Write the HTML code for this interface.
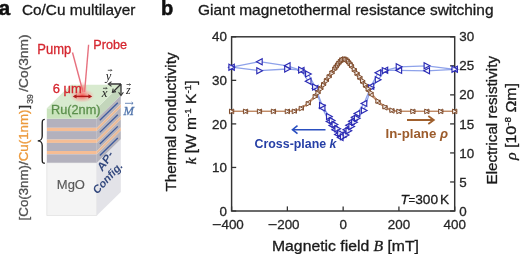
<!DOCTYPE html>
<html><head><meta charset="utf-8"><style>html,body{margin:0;padding:0;background:#fff;overflow:hidden}svg{display:block}</style></head>
<body>
<svg width="520" height="254" viewBox="0 0 520 254" font-family="Liberation Sans, Arial, sans-serif">
<rect width="520" height="254" fill="#fff"/>
<defs>
<radialGradient id="spot" cx="0.5" cy="0.5" r="0.5">
<stop offset="0" stop-color="#ff4040" stop-opacity="0.9"/>
<stop offset="0.4" stop-color="#ff6a6a" stop-opacity="0.6"/>
<stop offset="0.75" stop-color="#ff9090" stop-opacity="0.3"/>
<stop offset="1" stop-color="#ffa0a0" stop-opacity="0"/>
</radialGradient>
</defs>
<text x="-1.3" y="15.2" font-size="20.5" font-weight="bold" fill="#111" stroke="#111" stroke-width="0.5">a</text>
<text x="22" y="14.9" font-size="14.5" fill="#1a1a1a" textLength="113.3" lengthAdjust="spacingAndGlyphs" stroke="#1a1a1a" stroke-width="0.3">Co/Cu multilayer</text>
<text x="161" y="15.1" font-size="20" font-weight="bold" fill="#111" stroke="#111" stroke-width="0.5">b</text>
<text x="198" y="14.9" font-size="14.5" fill="#1a1a1a" textLength="295.5" lengthAdjust="spacingAndGlyphs" stroke="#1a1a1a" stroke-width="0.3">Giant magnetothermal resistance switching</text>
<rect x="231.6" y="36.8" width="223.1" height="174.2" fill="none" stroke="#333333" stroke-width="1.45"/>
<line x1="231.6" y1="211.00" x2="236.2" y2="211.00" stroke="#333333" stroke-width="1.3"/>
<text x="227" y="215.60" font-size="13.4" text-anchor="end" fill="#262626" stroke="#262626" stroke-width="0.3">0</text>
<line x1="231.6" y1="167.45" x2="236.2" y2="167.45" stroke="#333333" stroke-width="1.3"/>
<text x="227" y="172.05" font-size="13.4" text-anchor="end" fill="#262626" stroke="#262626" stroke-width="0.3">10</text>
<line x1="231.6" y1="123.90" x2="236.2" y2="123.90" stroke="#333333" stroke-width="1.3"/>
<text x="227" y="128.50" font-size="13.4" text-anchor="end" fill="#262626" stroke="#262626" stroke-width="0.3">20</text>
<line x1="231.6" y1="80.35" x2="236.2" y2="80.35" stroke="#333333" stroke-width="1.3"/>
<text x="227" y="84.95" font-size="13.4" text-anchor="end" fill="#262626" stroke="#262626" stroke-width="0.3">30</text>
<line x1="231.6" y1="36.80" x2="236.2" y2="36.80" stroke="#333333" stroke-width="1.3"/>
<text x="227" y="41.40" font-size="13.4" text-anchor="end" fill="#262626" stroke="#262626" stroke-width="0.3">40</text>
<line x1="454.7" y1="211.00" x2="450.09999999999997" y2="211.00" stroke="#333333" stroke-width="1.3"/>
<text x="459.3" y="215.60" font-size="13.4" fill="#262626" stroke="#262626" stroke-width="0.3">0</text>
<line x1="454.7" y1="181.97" x2="450.09999999999997" y2="181.97" stroke="#333333" stroke-width="1.3"/>
<text x="459.3" y="186.57" font-size="13.4" fill="#262626" stroke="#262626" stroke-width="0.3">5</text>
<line x1="454.7" y1="152.93" x2="450.09999999999997" y2="152.93" stroke="#333333" stroke-width="1.3"/>
<text x="459.3" y="157.53" font-size="13.4" fill="#262626" stroke="#262626" stroke-width="0.3">10</text>
<line x1="454.7" y1="123.90" x2="450.09999999999997" y2="123.90" stroke="#333333" stroke-width="1.3"/>
<text x="459.3" y="128.50" font-size="13.4" fill="#262626" stroke="#262626" stroke-width="0.3">15</text>
<line x1="454.7" y1="94.87" x2="450.09999999999997" y2="94.87" stroke="#333333" stroke-width="1.3"/>
<text x="459.3" y="99.47" font-size="13.4" fill="#262626" stroke="#262626" stroke-width="0.3">20</text>
<line x1="454.7" y1="65.83" x2="450.09999999999997" y2="65.83" stroke="#333333" stroke-width="1.3"/>
<text x="459.3" y="70.43" font-size="13.4" fill="#262626" stroke="#262626" stroke-width="0.3">25</text>
<line x1="454.7" y1="36.80" x2="450.09999999999997" y2="36.80" stroke="#333333" stroke-width="1.3"/>
<text x="459.3" y="41.40" font-size="13.4" fill="#262626" stroke="#262626" stroke-width="0.3">30</text>
<line x1="231.60" y1="211.0" x2="231.60" y2="206.4" stroke="#333333" stroke-width="1.3"/>
<text x="243.80" y="228.9" font-size="13.4" text-anchor="end" fill="#262626" stroke="#262626" stroke-width="0.3">400</text>
<text x="212.20" y="229.2" font-size="13.4" fill="#262626" textLength="9.4" lengthAdjust="spacingAndGlyphs" stroke="#262626" stroke-width="0.3">−</text>
<line x1="287.38" y1="211.0" x2="287.38" y2="206.4" stroke="#333333" stroke-width="1.3"/>
<text x="299.57" y="228.9" font-size="13.4" text-anchor="end" fill="#262626" stroke="#262626" stroke-width="0.3">200</text>
<text x="267.98" y="229.2" font-size="13.4" fill="#262626" textLength="9.4" lengthAdjust="spacingAndGlyphs" stroke="#262626" stroke-width="0.3">−</text>
<line x1="343.15" y1="211.0" x2="343.15" y2="206.4" stroke="#333333" stroke-width="1.3"/>
<text x="343.15" y="228.9" font-size="13.4" text-anchor="middle" fill="#262626" stroke="#262626" stroke-width="0.3">0</text>
<line x1="398.92" y1="211.0" x2="398.92" y2="206.4" stroke="#333333" stroke-width="1.3"/>
<text x="398.92" y="228.9" font-size="13.4" text-anchor="middle" fill="#262626" stroke="#262626" stroke-width="0.3">200</text>
<line x1="454.70" y1="211.0" x2="454.70" y2="206.4" stroke="#333333" stroke-width="1.3"/>
<text x="454.70" y="228.9" font-size="13.4" text-anchor="middle" fill="#262626" stroke="#262626" stroke-width="0.3">400</text>
<text x="272" y="251" font-size="14.3" fill="#1a1a1a" textLength="147" lengthAdjust="spacingAndGlyphs" stroke="#1a1a1a" stroke-width="0.3">Magnetic field <tspan font-family="Liberation Serif, serif" font-style="italic">B</tspan> [mT]</text>
<text transform="translate(175.5,191.5) rotate(-90)" font-size="14.4" fill="#1a1a1a" textLength="139" lengthAdjust="spacingAndGlyphs" stroke="#1a1a1a" stroke-width="0.3">Thermal conductivity</text>
<text transform="translate(195.5,164.5) rotate(-90)" font-size="14.4" fill="#1a1a1a" textLength="84" lengthAdjust="spacingAndGlyphs" stroke="#1a1a1a" stroke-width="0.3"><tspan font-family="Liberation Serif, serif" font-style="italic">k</tspan> [W m<tspan font-size="9" dy="-5">-1</tspan><tspan dy="5"> K</tspan><tspan font-size="9" dy="-5">-1</tspan><tspan dy="5">]</tspan></text>
<text transform="translate(496.5,184.5) rotate(-90)" font-size="14.4" fill="#1a1a1a" textLength="128.5" lengthAdjust="spacingAndGlyphs" stroke="#1a1a1a" stroke-width="0.3">Electrical resistivity</text>
<text transform="translate(516,160) rotate(-90)" font-size="14.4" fill="#1a1a1a" textLength="77" lengthAdjust="spacingAndGlyphs" stroke="#1a1a1a" stroke-width="0.3"><tspan font-family="Liberation Serif, serif" font-style="italic">ρ</tspan> [10<tspan font-size="9" dy="-5">-8</tspan><tspan dy="5"> Ωm]</tspan></text>
<polyline points="231.60,67.20 259.49,61.70 287.38,65.80 301.32,70.50 308.29,81.30 315.26,88.50 322.23,108.00 329.21,121.42 332.00,125.54 334.78,129.83 337.57,134.43 340.36,137.53 343.15,134.28 345.94,129.64 348.73,125.36 351.52,121.24 354.31,117.35 357.09,113.46 364.07,103.40 371.04,86.20 378.01,72.70 384.98,70.20 398.92,70.40 426.81,70.80 454.70,69.30" fill="none" stroke="#8ea2ea" stroke-width="1.3"/>
<polyline points="231.60,67.20 259.49,70.70 287.38,69.00 301.32,70.00 308.29,73.90 315.26,87.00 322.23,105.50 329.21,116.53 332.00,120.42 334.78,124.45 337.57,128.74 340.36,133.34 343.15,136.84 345.94,135.11 348.73,130.75 351.52,126.45 354.31,122.24 357.09,118.34 364.07,110.50 371.04,87.80 378.01,79.80 384.98,70.60 398.92,66.80 426.81,65.80 454.70,69.30" fill="none" stroke="#8ea2ea" stroke-width="1.3"/>
<polygon points="228.60,67.20 234.30,64.20 234.30,70.20" fill="#fff" fill-opacity="0.85" stroke="#2a2ab4" stroke-width="1.15"/>
<polygon points="256.49,61.70 262.19,58.70 262.19,64.70" fill="#fff" fill-opacity="0.85" stroke="#2a2ab4" stroke-width="1.15"/>
<polygon points="284.38,65.80 290.07,62.80 290.07,68.80" fill="#fff" fill-opacity="0.85" stroke="#2a2ab4" stroke-width="1.15"/>
<polygon points="298.32,70.50 304.02,67.50 304.02,73.50" fill="#fff" fill-opacity="0.85" stroke="#2a2ab4" stroke-width="1.15"/>
<polygon points="305.29,81.30 310.99,78.30 310.99,84.30" fill="#fff" fill-opacity="0.85" stroke="#2a2ab4" stroke-width="1.15"/>
<polygon points="312.26,88.50 317.96,85.50 317.96,91.50" fill="#fff" fill-opacity="0.85" stroke="#2a2ab4" stroke-width="1.15"/>
<polygon points="319.23,108.00 324.93,105.00 324.93,111.00" fill="#fff" fill-opacity="0.85" stroke="#2a2ab4" stroke-width="1.15"/>
<polygon points="326.21,121.42 331.91,118.42 331.91,124.42" fill="#fff" fill-opacity="0.85" stroke="#2a2ab4" stroke-width="1.15"/>
<polygon points="329.00,125.54 334.69,122.54 334.69,128.54" fill="#fff" fill-opacity="0.85" stroke="#2a2ab4" stroke-width="1.15"/>
<polygon points="331.78,129.83 337.48,126.83 337.48,132.83" fill="#fff" fill-opacity="0.85" stroke="#2a2ab4" stroke-width="1.15"/>
<polygon points="334.57,134.43 340.27,131.43 340.27,137.43" fill="#fff" fill-opacity="0.85" stroke="#2a2ab4" stroke-width="1.15"/>
<polygon points="337.36,137.53 343.06,134.53 343.06,140.53" fill="#fff" fill-opacity="0.85" stroke="#2a2ab4" stroke-width="1.15"/>
<polygon points="340.15,134.28 345.85,131.28 345.85,137.28" fill="#fff" fill-opacity="0.85" stroke="#2a2ab4" stroke-width="1.15"/>
<polygon points="342.94,129.64 348.64,126.64 348.64,132.64" fill="#fff" fill-opacity="0.85" stroke="#2a2ab4" stroke-width="1.15"/>
<polygon points="345.73,125.36 351.43,122.36 351.43,128.36" fill="#fff" fill-opacity="0.85" stroke="#2a2ab4" stroke-width="1.15"/>
<polygon points="348.52,121.24 354.22,118.24 354.22,124.24" fill="#fff" fill-opacity="0.85" stroke="#2a2ab4" stroke-width="1.15"/>
<polygon points="351.31,117.35 357.00,114.35 357.00,120.35" fill="#fff" fill-opacity="0.85" stroke="#2a2ab4" stroke-width="1.15"/>
<polygon points="354.09,113.46 359.79,110.46 359.79,116.46" fill="#fff" fill-opacity="0.85" stroke="#2a2ab4" stroke-width="1.15"/>
<polygon points="361.07,103.40 366.77,100.40 366.77,106.40" fill="#fff" fill-opacity="0.85" stroke="#2a2ab4" stroke-width="1.15"/>
<polygon points="368.04,86.20 373.74,83.20 373.74,89.20" fill="#fff" fill-opacity="0.85" stroke="#2a2ab4" stroke-width="1.15"/>
<polygon points="375.01,72.70 380.71,69.70 380.71,75.70" fill="#fff" fill-opacity="0.85" stroke="#2a2ab4" stroke-width="1.15"/>
<polygon points="381.98,70.20 387.68,67.20 387.68,73.20" fill="#fff" fill-opacity="0.85" stroke="#2a2ab4" stroke-width="1.15"/>
<polygon points="395.92,70.40 401.62,67.40 401.62,73.40" fill="#fff" fill-opacity="0.85" stroke="#2a2ab4" stroke-width="1.15"/>
<polygon points="423.81,70.80 429.51,67.80 429.51,73.80" fill="#fff" fill-opacity="0.85" stroke="#2a2ab4" stroke-width="1.15"/>
<polygon points="451.70,69.30 457.40,66.30 457.40,72.30" fill="#fff" fill-opacity="0.85" stroke="#2a2ab4" stroke-width="1.15"/>
<polygon points="234.60,67.20 228.90,64.20 228.90,70.20" fill="#fff" fill-opacity="0.85" stroke="#2a2ab4" stroke-width="1.15"/>
<polygon points="262.49,70.70 256.79,67.70 256.79,73.70" fill="#fff" fill-opacity="0.85" stroke="#2a2ab4" stroke-width="1.15"/>
<polygon points="290.38,69.00 284.68,66.00 284.68,72.00" fill="#fff" fill-opacity="0.85" stroke="#2a2ab4" stroke-width="1.15"/>
<polygon points="304.32,70.00 298.62,67.00 298.62,73.00" fill="#fff" fill-opacity="0.85" stroke="#2a2ab4" stroke-width="1.15"/>
<polygon points="311.29,73.90 305.59,70.90 305.59,76.90" fill="#fff" fill-opacity="0.85" stroke="#2a2ab4" stroke-width="1.15"/>
<polygon points="318.26,87.00 312.56,84.00 312.56,90.00" fill="#fff" fill-opacity="0.85" stroke="#2a2ab4" stroke-width="1.15"/>
<polygon points="325.23,105.50 319.53,102.50 319.53,108.50" fill="#fff" fill-opacity="0.85" stroke="#2a2ab4" stroke-width="1.15"/>
<polygon points="332.21,116.53 326.51,113.53 326.51,119.53" fill="#fff" fill-opacity="0.85" stroke="#2a2ab4" stroke-width="1.15"/>
<polygon points="335.00,120.42 329.30,117.42 329.30,123.42" fill="#fff" fill-opacity="0.85" stroke="#2a2ab4" stroke-width="1.15"/>
<polygon points="337.78,124.45 332.08,121.45 332.08,127.45" fill="#fff" fill-opacity="0.85" stroke="#2a2ab4" stroke-width="1.15"/>
<polygon points="340.57,128.74 334.87,125.74 334.87,131.74" fill="#fff" fill-opacity="0.85" stroke="#2a2ab4" stroke-width="1.15"/>
<polygon points="343.36,133.34 337.66,130.34 337.66,136.34" fill="#fff" fill-opacity="0.85" stroke="#2a2ab4" stroke-width="1.15"/>
<polygon points="346.15,136.84 340.45,133.84 340.45,139.84" fill="#fff" fill-opacity="0.85" stroke="#2a2ab4" stroke-width="1.15"/>
<polygon points="348.94,135.11 343.24,132.11 343.24,138.11" fill="#fff" fill-opacity="0.85" stroke="#2a2ab4" stroke-width="1.15"/>
<polygon points="351.73,130.75 346.03,127.75 346.03,133.75" fill="#fff" fill-opacity="0.85" stroke="#2a2ab4" stroke-width="1.15"/>
<polygon points="354.52,126.45 348.82,123.45 348.82,129.45" fill="#fff" fill-opacity="0.85" stroke="#2a2ab4" stroke-width="1.15"/>
<polygon points="357.31,122.24 351.61,119.24 351.61,125.24" fill="#fff" fill-opacity="0.85" stroke="#2a2ab4" stroke-width="1.15"/>
<polygon points="360.09,118.34 354.39,115.34 354.39,121.34" fill="#fff" fill-opacity="0.85" stroke="#2a2ab4" stroke-width="1.15"/>
<polygon points="367.07,110.50 361.37,107.50 361.37,113.50" fill="#fff" fill-opacity="0.85" stroke="#2a2ab4" stroke-width="1.15"/>
<polygon points="374.04,87.80 368.34,84.80 368.34,90.80" fill="#fff" fill-opacity="0.85" stroke="#2a2ab4" stroke-width="1.15"/>
<polygon points="381.01,79.80 375.31,76.80 375.31,82.80" fill="#fff" fill-opacity="0.85" stroke="#2a2ab4" stroke-width="1.15"/>
<polygon points="387.98,70.60 382.28,67.60 382.28,73.60" fill="#fff" fill-opacity="0.85" stroke="#2a2ab4" stroke-width="1.15"/>
<polygon points="401.92,66.80 396.22,63.80 396.22,69.80" fill="#fff" fill-opacity="0.85" stroke="#2a2ab4" stroke-width="1.15"/>
<polygon points="429.81,65.80 424.11,62.80 424.11,68.80" fill="#fff" fill-opacity="0.85" stroke="#2a2ab4" stroke-width="1.15"/>
<polygon points="457.70,69.30 452.00,66.30 452.00,72.30" fill="#fff" fill-opacity="0.85" stroke="#2a2ab4" stroke-width="1.15"/>
<polyline points="231.60,111.40 245.54,111.40 259.49,111.40 273.43,111.40 287.38,111.40 294.35,110.95 301.32,107.97 308.29,102.61 315.26,95.17 318.05,91.15 320.84,87.13 323.63,83.11 326.42,79.16 329.21,75.25 332.00,71.44 334.78,67.52 336.18,65.51 337.57,63.55 338.97,61.85 340.36,60.19 341.76,59.58 343.15,58.97 344.54,59.44 345.94,60.05 347.33,61.48 348.73,63.19 350.12,65.07 351.52,67.09 354.31,71.03 357.09,74.84 359.88,78.73 362.67,82.68 365.46,86.69 368.25,90.72 371.04,94.75 378.01,102.34 384.98,107.75 391.95,110.83 398.92,111.40 412.87,111.40 426.81,111.40 440.76,111.40 454.70,111.40" fill="none" stroke="#c08a66" stroke-width="1.2"/>
<polyline points="231.60,111.40 245.54,111.40 259.49,111.40 273.43,111.40 287.38,111.40 294.35,111.40 301.32,108.58 308.29,103.83 315.26,96.82 318.05,93.17 320.84,89.15 323.63,85.12 326.42,81.14 329.21,77.19 332.00,73.35 334.78,69.54 336.18,67.53 337.57,65.52 338.97,63.56 340.36,61.85 341.76,60.19 343.15,59.58 344.54,58.97 345.94,59.44 347.33,60.05 348.73,61.47 350.12,63.18 351.52,65.07 354.31,69.09 357.09,72.93 359.88,76.75 362.67,80.70 365.46,84.67 368.25,88.70 371.04,92.72 378.01,101.05 384.98,106.71 391.95,110.23 398.92,111.40 412.87,111.40 426.81,111.40 440.76,111.40 454.70,111.40" fill="none" stroke="#c08a66" stroke-width="1.2"/>
<polygon points="229.25,111.40 233.72,109.05 233.72,113.75" fill="#fff" fill-opacity="0.85" stroke="#7e4a2a" stroke-width="1.0"/>
<polygon points="243.19,111.40 247.66,109.05 247.66,113.75" fill="#fff" fill-opacity="0.85" stroke="#7e4a2a" stroke-width="1.0"/>
<polygon points="257.14,111.40 261.60,109.05 261.60,113.75" fill="#fff" fill-opacity="0.85" stroke="#7e4a2a" stroke-width="1.0"/>
<polygon points="271.08,111.40 275.55,109.05 275.55,113.75" fill="#fff" fill-opacity="0.85" stroke="#7e4a2a" stroke-width="1.0"/>
<polygon points="285.02,111.40 289.49,109.05 289.49,113.75" fill="#fff" fill-opacity="0.85" stroke="#7e4a2a" stroke-width="1.0"/>
<polygon points="292.00,110.95 296.46,108.60 296.46,113.30" fill="#fff" fill-opacity="0.85" stroke="#7e4a2a" stroke-width="1.0"/>
<polygon points="298.97,107.97 303.43,105.62 303.43,110.32" fill="#fff" fill-opacity="0.85" stroke="#7e4a2a" stroke-width="1.0"/>
<polygon points="305.94,102.61 310.41,100.26 310.41,104.96" fill="#fff" fill-opacity="0.85" stroke="#7e4a2a" stroke-width="1.0"/>
<polygon points="312.91,95.17 317.38,92.82 317.38,97.52" fill="#fff" fill-opacity="0.85" stroke="#7e4a2a" stroke-width="1.0"/>
<polygon points="315.70,91.15 320.17,88.80 320.17,93.50" fill="#fff" fill-opacity="0.85" stroke="#7e4a2a" stroke-width="1.0"/>
<polygon points="318.49,87.13 322.95,84.78 322.95,89.48" fill="#fff" fill-opacity="0.85" stroke="#7e4a2a" stroke-width="1.0"/>
<polygon points="321.28,83.11 325.74,80.76 325.74,85.46" fill="#fff" fill-opacity="0.85" stroke="#7e4a2a" stroke-width="1.0"/>
<polygon points="324.07,79.16 328.53,76.81 328.53,81.51" fill="#fff" fill-opacity="0.85" stroke="#7e4a2a" stroke-width="1.0"/>
<polygon points="326.86,75.25 331.32,72.90 331.32,77.60" fill="#fff" fill-opacity="0.85" stroke="#7e4a2a" stroke-width="1.0"/>
<polygon points="329.64,71.44 334.11,69.09 334.11,73.79" fill="#fff" fill-opacity="0.85" stroke="#7e4a2a" stroke-width="1.0"/>
<polygon points="332.43,67.52 336.90,65.17 336.90,69.87" fill="#fff" fill-opacity="0.85" stroke="#7e4a2a" stroke-width="1.0"/>
<polygon points="333.83,65.51 338.29,63.16 338.29,67.86" fill="#fff" fill-opacity="0.85" stroke="#7e4a2a" stroke-width="1.0"/>
<polygon points="335.22,63.55 339.69,61.20 339.69,65.90" fill="#fff" fill-opacity="0.85" stroke="#7e4a2a" stroke-width="1.0"/>
<polygon points="336.62,61.85 341.08,59.50 341.08,64.20" fill="#fff" fill-opacity="0.85" stroke="#7e4a2a" stroke-width="1.0"/>
<polygon points="338.01,60.19 342.48,57.84 342.48,62.54" fill="#fff" fill-opacity="0.85" stroke="#7e4a2a" stroke-width="1.0"/>
<polygon points="339.41,59.58 343.87,57.23 343.87,61.93" fill="#fff" fill-opacity="0.85" stroke="#7e4a2a" stroke-width="1.0"/>
<polygon points="340.80,58.97 345.26,56.62 345.26,61.32" fill="#fff" fill-opacity="0.85" stroke="#7e4a2a" stroke-width="1.0"/>
<polygon points="342.19,59.44 346.66,57.09 346.66,61.79" fill="#fff" fill-opacity="0.85" stroke="#7e4a2a" stroke-width="1.0"/>
<polygon points="343.59,60.05 348.05,57.70 348.05,62.40" fill="#fff" fill-opacity="0.85" stroke="#7e4a2a" stroke-width="1.0"/>
<polygon points="344.98,61.48 349.45,59.13 349.45,63.83" fill="#fff" fill-opacity="0.85" stroke="#7e4a2a" stroke-width="1.0"/>
<polygon points="346.38,63.19 350.84,60.84 350.84,65.54" fill="#fff" fill-opacity="0.85" stroke="#7e4a2a" stroke-width="1.0"/>
<polygon points="347.77,65.07 352.24,62.72 352.24,67.42" fill="#fff" fill-opacity="0.85" stroke="#7e4a2a" stroke-width="1.0"/>
<polygon points="349.17,67.09 353.63,64.74 353.63,69.44" fill="#fff" fill-opacity="0.85" stroke="#7e4a2a" stroke-width="1.0"/>
<polygon points="351.95,71.03 356.42,68.68 356.42,73.38" fill="#fff" fill-opacity="0.85" stroke="#7e4a2a" stroke-width="1.0"/>
<polygon points="354.74,74.84 359.21,72.49 359.21,77.19" fill="#fff" fill-opacity="0.85" stroke="#7e4a2a" stroke-width="1.0"/>
<polygon points="357.53,78.73 362.00,76.38 362.00,81.08" fill="#fff" fill-opacity="0.85" stroke="#7e4a2a" stroke-width="1.0"/>
<polygon points="360.32,82.68 364.79,80.33 364.79,85.03" fill="#fff" fill-opacity="0.85" stroke="#7e4a2a" stroke-width="1.0"/>
<polygon points="363.11,86.69 367.58,84.34 367.58,89.04" fill="#fff" fill-opacity="0.85" stroke="#7e4a2a" stroke-width="1.0"/>
<polygon points="365.90,90.72 370.36,88.37 370.36,93.07" fill="#fff" fill-opacity="0.85" stroke="#7e4a2a" stroke-width="1.0"/>
<polygon points="368.69,94.75 373.15,92.40 373.15,97.10" fill="#fff" fill-opacity="0.85" stroke="#7e4a2a" stroke-width="1.0"/>
<polygon points="375.66,102.34 380.12,99.99 380.12,104.69" fill="#fff" fill-opacity="0.85" stroke="#7e4a2a" stroke-width="1.0"/>
<polygon points="382.63,107.75 387.10,105.40 387.10,110.10" fill="#fff" fill-opacity="0.85" stroke="#7e4a2a" stroke-width="1.0"/>
<polygon points="389.60,110.83 394.07,108.48 394.07,113.18" fill="#fff" fill-opacity="0.85" stroke="#7e4a2a" stroke-width="1.0"/>
<polygon points="396.57,111.40 401.04,109.05 401.04,113.75" fill="#fff" fill-opacity="0.85" stroke="#7e4a2a" stroke-width="1.0"/>
<polygon points="410.52,111.40 414.98,109.05 414.98,113.75" fill="#fff" fill-opacity="0.85" stroke="#7e4a2a" stroke-width="1.0"/>
<polygon points="424.46,111.40 428.93,109.05 428.93,113.75" fill="#fff" fill-opacity="0.85" stroke="#7e4a2a" stroke-width="1.0"/>
<polygon points="438.41,111.40 442.87,109.05 442.87,113.75" fill="#fff" fill-opacity="0.85" stroke="#7e4a2a" stroke-width="1.0"/>
<polygon points="452.35,111.40 456.81,109.05 456.81,113.75" fill="#fff" fill-opacity="0.85" stroke="#7e4a2a" stroke-width="1.0"/>
<polygon points="233.95,111.40 229.48,109.05 229.48,113.75" fill="#fff" fill-opacity="0.85" stroke="#7e4a2a" stroke-width="1.0"/>
<polygon points="247.89,111.40 243.43,109.05 243.43,113.75" fill="#fff" fill-opacity="0.85" stroke="#7e4a2a" stroke-width="1.0"/>
<polygon points="261.84,111.40 257.37,109.05 257.37,113.75" fill="#fff" fill-opacity="0.85" stroke="#7e4a2a" stroke-width="1.0"/>
<polygon points="275.78,111.40 271.32,109.05 271.32,113.75" fill="#fff" fill-opacity="0.85" stroke="#7e4a2a" stroke-width="1.0"/>
<polygon points="289.73,111.40 285.26,109.05 285.26,113.75" fill="#fff" fill-opacity="0.85" stroke="#7e4a2a" stroke-width="1.0"/>
<polygon points="296.70,111.40 292.23,109.05 292.23,113.75" fill="#fff" fill-opacity="0.85" stroke="#7e4a2a" stroke-width="1.0"/>
<polygon points="303.67,108.58 299.20,106.23 299.20,110.93" fill="#fff" fill-opacity="0.85" stroke="#7e4a2a" stroke-width="1.0"/>
<polygon points="310.64,103.83 306.18,101.48 306.18,106.18" fill="#fff" fill-opacity="0.85" stroke="#7e4a2a" stroke-width="1.0"/>
<polygon points="317.61,96.82 313.15,94.47 313.15,99.17" fill="#fff" fill-opacity="0.85" stroke="#7e4a2a" stroke-width="1.0"/>
<polygon points="320.40,93.17 315.94,90.82 315.94,95.52" fill="#fff" fill-opacity="0.85" stroke="#7e4a2a" stroke-width="1.0"/>
<polygon points="323.19,89.15 318.72,86.80 318.72,91.50" fill="#fff" fill-opacity="0.85" stroke="#7e4a2a" stroke-width="1.0"/>
<polygon points="325.98,85.12 321.51,82.77 321.51,87.47" fill="#fff" fill-opacity="0.85" stroke="#7e4a2a" stroke-width="1.0"/>
<polygon points="328.77,81.14 324.30,78.79 324.30,83.49" fill="#fff" fill-opacity="0.85" stroke="#7e4a2a" stroke-width="1.0"/>
<polygon points="331.56,77.19 327.09,74.84 327.09,79.54" fill="#fff" fill-opacity="0.85" stroke="#7e4a2a" stroke-width="1.0"/>
<polygon points="334.35,73.35 329.88,71.00 329.88,75.70" fill="#fff" fill-opacity="0.85" stroke="#7e4a2a" stroke-width="1.0"/>
<polygon points="337.13,69.54 332.67,67.19 332.67,71.89" fill="#fff" fill-opacity="0.85" stroke="#7e4a2a" stroke-width="1.0"/>
<polygon points="338.53,67.53 334.06,65.18 334.06,69.88" fill="#fff" fill-opacity="0.85" stroke="#7e4a2a" stroke-width="1.0"/>
<polygon points="339.92,65.52 335.46,63.17 335.46,67.87" fill="#fff" fill-opacity="0.85" stroke="#7e4a2a" stroke-width="1.0"/>
<polygon points="341.32,63.56 336.85,61.21 336.85,65.91" fill="#fff" fill-opacity="0.85" stroke="#7e4a2a" stroke-width="1.0"/>
<polygon points="342.71,61.85 338.25,59.50 338.25,64.20" fill="#fff" fill-opacity="0.85" stroke="#7e4a2a" stroke-width="1.0"/>
<polygon points="344.11,60.19 339.64,57.84 339.64,62.54" fill="#fff" fill-opacity="0.85" stroke="#7e4a2a" stroke-width="1.0"/>
<polygon points="345.50,59.58 341.03,57.23 341.03,61.93" fill="#fff" fill-opacity="0.85" stroke="#7e4a2a" stroke-width="1.0"/>
<polygon points="346.89,58.97 342.43,56.62 342.43,61.32" fill="#fff" fill-opacity="0.85" stroke="#7e4a2a" stroke-width="1.0"/>
<polygon points="348.29,59.44 343.82,57.09 343.82,61.79" fill="#fff" fill-opacity="0.85" stroke="#7e4a2a" stroke-width="1.0"/>
<polygon points="349.68,60.05 345.22,57.70 345.22,62.40" fill="#fff" fill-opacity="0.85" stroke="#7e4a2a" stroke-width="1.0"/>
<polygon points="351.08,61.47 346.61,59.12 346.61,63.82" fill="#fff" fill-opacity="0.85" stroke="#7e4a2a" stroke-width="1.0"/>
<polygon points="352.47,63.18 348.01,60.83 348.01,65.53" fill="#fff" fill-opacity="0.85" stroke="#7e4a2a" stroke-width="1.0"/>
<polygon points="353.87,65.07 349.40,62.72 349.40,67.42" fill="#fff" fill-opacity="0.85" stroke="#7e4a2a" stroke-width="1.0"/>
<polygon points="356.66,69.09 352.19,66.74 352.19,71.44" fill="#fff" fill-opacity="0.85" stroke="#7e4a2a" stroke-width="1.0"/>
<polygon points="359.44,72.93 354.98,70.58 354.98,75.28" fill="#fff" fill-opacity="0.85" stroke="#7e4a2a" stroke-width="1.0"/>
<polygon points="362.23,76.75 357.77,74.40 357.77,79.10" fill="#fff" fill-opacity="0.85" stroke="#7e4a2a" stroke-width="1.0"/>
<polygon points="365.02,80.70 360.56,78.35 360.56,83.05" fill="#fff" fill-opacity="0.85" stroke="#7e4a2a" stroke-width="1.0"/>
<polygon points="367.81,84.67 363.35,82.32 363.35,87.02" fill="#fff" fill-opacity="0.85" stroke="#7e4a2a" stroke-width="1.0"/>
<polygon points="370.60,88.70 366.13,86.35 366.13,91.05" fill="#fff" fill-opacity="0.85" stroke="#7e4a2a" stroke-width="1.0"/>
<polygon points="373.39,92.72 368.92,90.37 368.92,95.07" fill="#fff" fill-opacity="0.85" stroke="#7e4a2a" stroke-width="1.0"/>
<polygon points="380.36,101.05 375.89,98.70 375.89,103.40" fill="#fff" fill-opacity="0.85" stroke="#7e4a2a" stroke-width="1.0"/>
<polygon points="387.33,106.71 382.87,104.36 382.87,109.06" fill="#fff" fill-opacity="0.85" stroke="#7e4a2a" stroke-width="1.0"/>
<polygon points="394.30,110.23 389.84,107.88 389.84,112.58" fill="#fff" fill-opacity="0.85" stroke="#7e4a2a" stroke-width="1.0"/>
<polygon points="401.27,111.40 396.81,109.05 396.81,113.75" fill="#fff" fill-opacity="0.85" stroke="#7e4a2a" stroke-width="1.0"/>
<polygon points="415.22,111.40 410.75,109.05 410.75,113.75" fill="#fff" fill-opacity="0.85" stroke="#7e4a2a" stroke-width="1.0"/>
<polygon points="429.16,111.40 424.70,109.05 424.70,113.75" fill="#fff" fill-opacity="0.85" stroke="#7e4a2a" stroke-width="1.0"/>
<polygon points="443.11,111.40 438.64,109.05 438.64,113.75" fill="#fff" fill-opacity="0.85" stroke="#7e4a2a" stroke-width="1.0"/>
<polygon points="457.05,111.40 452.58,109.05 452.58,113.75" fill="#fff" fill-opacity="0.85" stroke="#7e4a2a" stroke-width="1.0"/>
<line x1="325.5" y1="129.7" x2="293" y2="129.7" stroke="#2a4fc0" stroke-width="1.6"/>
<path d="M297.5,125.7 L292.5,129.7 L297.5,133.7" fill="none" stroke="#2a4fc0" stroke-width="1.6"/>
<text x="254.5" y="148.4" font-size="12.8" font-weight="bold" fill="#263fa6" textLength="82" lengthAdjust="spacingAndGlyphs">Cross-plane <tspan font-style="italic">k</tspan></text>
<line x1="407" y1="120" x2="433" y2="120" stroke="#a0602e" stroke-width="2"/>
<path d="M428.3,116 L433.8,120 L428.3,124" fill="none" stroke="#a0602e" stroke-width="1.8"/>
<text x="385.5" y="137.8" font-size="13.5" font-weight="bold" fill="#9c5c2c" textLength="62.5" lengthAdjust="spacingAndGlyphs">In-plane <tspan font-style="italic">ρ</tspan></text>
<text y="203.6" font-size="13.7" fill="#1a1a1a" stroke="#1a1a1a" stroke-width="0.3"><tspan x="400.4" font-style="italic">T</tspan><tspan x="408.4" textLength="6.6" lengthAdjust="spacingAndGlyphs">=</tspan><tspan x="415.2">300</tspan><tspan x="440">K</tspan></text>
<polygon points="46.80,162.70 96.80,162.70 96.80,215.50 46.80,215.50" fill="#f4f4f4" stroke="#e2e2e2" stroke-width="0.8"/>
<polygon points="96.80,162.70 120.80,139.20 120.80,192.00 96.80,215.50" fill="#e3e3e8"/>
<rect x="46.8" y="118.7" width="50.0" height="9.099999999999994" fill="#b3b1bd"/>
<polygon points="96.80,118.70 120.80,95.20 120.80,104.30 96.80,127.80" fill="#b5b3bc"/>
<rect x="46.8" y="127.8" width="50.0" height="3.299999999999997" fill="#f6bd94"/>
<polygon points="96.80,127.80 120.80,104.30 120.80,107.60 96.80,131.10" fill="#eabb98"/>
<rect x="46.8" y="131.1" width="50.0" height="8.5" fill="#b3b1bd"/>
<polygon points="96.80,131.10 120.80,107.60 120.80,116.10 96.80,139.60" fill="#b5b3bc"/>
<rect x="46.8" y="139.6" width="50.0" height="3.3000000000000114" fill="#f6bd94"/>
<polygon points="96.80,139.60 120.80,116.10 120.80,119.40 96.80,142.90" fill="#eabb98"/>
<rect x="46.8" y="142.9" width="50.0" height="8.099999999999994" fill="#b3b1bd"/>
<polygon points="96.80,142.90 120.80,119.40 120.80,127.50 96.80,151.00" fill="#b5b3bc"/>
<rect x="46.8" y="151.0" width="50.0" height="3.3000000000000114" fill="#f6bd94"/>
<polygon points="96.80,151.00 120.80,127.50 120.80,130.80 96.80,154.30" fill="#eabb98"/>
<rect x="46.8" y="154.3" width="50.0" height="8.399999999999977" fill="#b3b1bd"/>
<polygon points="96.80,154.30 120.80,130.80 120.80,139.20 96.80,162.70" fill="#b5b3bc"/>
<rect x="46.8" y="108.3" width="50.0" height="10.400000000000006" fill="#c9e3bc"/>
<polygon points="96.80,108.30 120.80,84.80 120.80,95.20 96.80,118.70" fill="#c3d6bb"/>
<polygon points="46.80,108.30 96.80,108.30 120.80,84.80 70.80,84.80" fill="#d8eacf"/>
<line x1="99.80" y1="120.31" x2="117.80" y2="102.69" stroke="#3f5c9f" stroke-width="1.3"/>
<line x1="99.80" y1="132.41" x2="117.80" y2="114.79" stroke="#3f5c9f" stroke-width="1.3"/>
<line x1="99.80" y1="144.01" x2="117.80" y2="126.39" stroke="#3f5c9f" stroke-width="1.3"/>
<line x1="99.80" y1="155.56" x2="117.80" y2="137.94" stroke="#3f5c9f" stroke-width="1.3"/>
<text x="56.8" y="189.3" font-size="13" fill="#585858" stroke="#585858" stroke-width="0.15">MgO</text>
<text x="51" y="113.7" font-size="13" fill="#5b8f4c" textLength="49.5" lengthAdjust="spacingAndGlyphs" stroke="#5b8f4c" stroke-width="0.3">Ru(2nm)</text>
<g font-size="11" font-weight="bold" font-style="italic" fill="#34497e">
<text transform="translate(102.6,171.8) rotate(-57)" textLength="21" lengthAdjust="spacingAndGlyphs">AP-</text>
<text transform="translate(97.2,194.6) rotate(-47)" textLength="38.5" lengthAdjust="spacingAndGlyphs">Config.</text>
</g>
<path d="M44.8,119.4 C42,119.4 42.2,121 42.2,126 L42.2,136 C42.2,139.5 41,140.5 37.8,140.8 C41,141.1 42.2,142 42.2,145.5 L42.2,157 C42.2,162 42,163.2 44.8,163.2" fill="none" stroke="#1e1e1e" stroke-width="1.35"/>
<line x1="72.5" y1="52.5" x2="83" y2="92" stroke="#e7717f" stroke-width="1.4"/>
<line x1="88.6" y1="44.8" x2="84.6" y2="92" stroke="#e7717f" stroke-width="1.4"/>
<ellipse cx="83" cy="89" rx="4.5" ry="8" fill="url(#spot)" opacity="0.6"/><ellipse cx="82" cy="95.8" rx="12.5" ry="6.8" fill="url(#spot)"/>
<line x1="74" y1="96.4" x2="90.5" y2="96.4" stroke="#b01818" stroke-width="1.4"/>
<path d="M76.6,94.3 L72.8,96.4 L76.6,98.5 Z M88.4,94.3 L92.2,96.4 L88.4,98.5 Z" fill="#b01818"/>
<text x="37.3" y="53.6" font-size="14" fill="#d5262f" textLength="34" lengthAdjust="spacingAndGlyphs" stroke="#d5262f" stroke-width="0.3">Pump</text>
<text x="93.3" y="48.9" font-size="13.6" fill="#d5262f" textLength="33.8" lengthAdjust="spacingAndGlyphs" stroke="#d5262f" stroke-width="0.3">Probe</text>
<text x="52.8" y="92.8" font-size="12" fill="#d5262f" textLength="29" lengthAdjust="spacingAndGlyphs" stroke="#d5262f" stroke-width="0.3">6 μm</text>
<path d="M121,84 L109,84 M121,84 L121,95 M121,84 L113,92" fill="none" stroke="#333" stroke-width="1.3"/>
<path d="M111.5,81.6 L108.3,84 L111.5,86.4 M118.6,92.2 L121,95.6 L123.4,92.2 M113.2,88.6 L112.4,92.2 L116,91.6" fill="none" stroke="#333" stroke-width="1.1"/>
<g font-family="Liberation Serif, serif" font-style="italic" font-size="12" fill="#222">
<text x="105.8" y="80.3" font-size="12.5">y</text><text x="101.8" y="97.3" font-size="13">x</text><text x="126" y="93.5">z</text>
</g>
<g stroke="#222" stroke-width="0.7" fill="none"><path d="M107.8,70.3 h4 M110.8,69.3 l1,1 l-1,1"/><path d="M103,88.3 h4 M106,87.3 l1,1 l-1,1"/><path d="M126.5,84.5 h4 M129.5,83.5 l1,1 l-1,1"/></g>
<text x="123.5" y="114.6" font-family="Liberation Serif, serif" font-style="italic" font-size="12.5" fill="#5577ad" stroke="#5577ad" stroke-width="0.3">M</text>
<path d="M125,103.3 h8 M131.6,102 l1.5,1.3 l-1.5,1.3" fill="none" stroke="#4a6fa8" stroke-width="0.8"/>
<text transform="translate(27.9,220.7) rotate(-90)" font-size="13.3" fill="#505050" stroke="#505050" stroke-width="0.3"><tspan x="0.3">[Co(3nm)/</tspan><tspan fill="#ec9a3c" stroke="#ec9a3c" stroke-width="0.3">Cu(1nm)</tspan><tspan x="112" fill="#333" stroke="#333" stroke-width="0.3">]</tspan><tspan x="117" font-size="8.6" dy="5.2">39</tspan><tspan x="129" dy="-5.2" textLength="57.2" lengthAdjust="spacingAndGlyphs">/Co(3nm)</tspan></text>
</svg>
</body></html>
